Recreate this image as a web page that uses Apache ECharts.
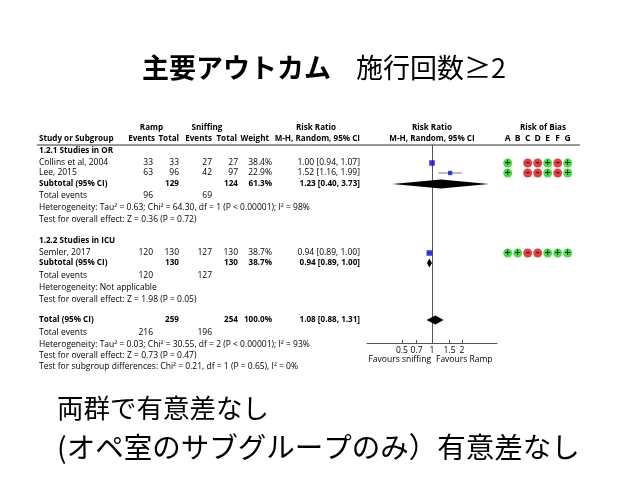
<!DOCTYPE html>
<html><head><meta charset="utf-8">
<script src="https://cdn.jsdelivr.net/npm/echarts@6/dist/echarts.min.js"></script>
<style>html,body{margin:0;padding:0;background:#fff}#c{width:638px;height:478px}</style>
</head><body><div id="c"></div><script>
// ---- data ----
const studies = ['Collins et al, 2004', 'Lee, 2015', 'Semler, 2017'];
const rampEvents = [33, 63, 120];
const rampTotal = [33, 96, 130];
const sniffEvents = [27, 42, 127];
const sniffTotal = [27, 97, 130];
const weights = [38.4, 22.9, 38.7];
const rr = [1.00, 1.52, 0.94];
const rrLow = [0.94, 1.16, 0.89];
const rrHigh = [1.07, 1.99, 1.00];
const pooledLabels = ['Subtotal (95% CI)', 'Subtotal (95% CI)', 'Total (95% CI)'];
const pooledRampTotal = [129, 130, 259];
const pooledSniffTotal = [124, 130, 254];
const pooledWeight = [61.3, 38.7, 100.0];
const pooledRR = [1.23, 0.94, 1.08];
const pooledLow = [0.40, 0.89, 0.88];
const pooledHigh = [3.73, 1.00, 1.31];
const pooledRampEvents = [96, 120, 216];
const pooledSniffEvents = [69, 127, 196];
const groupTitles = ['1.2.1 Studies in OR', '1.2.2 Studies in ICU'];
const heterogeneity = [
  'Heterogeneity: Tau² = 0.63; Chi² = 64.30, df = 1 (P < 0.00001); I² = 98%',
  'Heterogeneity: Not applicable',
  'Heterogeneity: Tau² = 0.03; Chi² = 30.55, df = 2 (P < 0.00001); I² = 93%'
];
const overallEffect = [
  'Test for overall effect: Z = 0.36 (P = 0.72)',
  'Test for overall effect: Z = 1.98 (P = 0.05)',
  'Test for overall effect: Z = 0.73 (P = 0.47)'
];
const subgroupTest = 'Test for subgroup differences: Chi² = 0.21, df = 1 (P = 0.65), I² = 0%';
const biasDomains = ['A', 'B', 'C', 'D', 'E', 'F', 'G'];
const biasRatings = [
  ['+', '', '-', '-', '+', '-', '+'],
  ['+', '', '-', '-', '+', '-', '+'],
  ['+', '+', '-', '-', '+', '+', '+']
];
const axisTicks = [0.5, 0.7, 1, 1.5, 2];

// ---- layout ----
const FONT = '"Open Sans"';
const FS = 8.5;
const FSB = 8.1;
const studyY = [163, 173, 253];
const pooledY = [184, 263, 320];
const eventsY = [196, 276, 333];
const hetY = [208, 288, 345];
const testY = [220, 300, 356];
const subTestY = 367;
const groupY = [151, 241];
const LX = 39;
const colR = [153, 179, 212, 238, 272, 360];
const headR = [155, 179, 212, 237, 269, 360];

const fmtCI = (e, l, h) => e.toFixed(2) + ' [' + l.toFixed(2) + ', ' + h.toFixed(2) + ']';
const cells = [];
function cell(x, y, t, a, b) { cells.push({ x, y, t: String(t), a: a || 'right', b: !!b }); }

// headers
cell(151.5, 128, 'Ramp', 'center', true);
cell(207, 128, 'Sniffing', 'center', true);
cell(316, 128, 'Risk Ratio', 'center', true);
cell(432, 128, 'Risk Ratio', 'center', true);
cell(543, 128, 'Risk of Bias', 'center', true);
cell(LX, 139, 'Study or Subgroup', 'left', true);
['Events', 'Total', 'Events', 'Total', 'Weight', 'M-H, Random, 95% CI'].forEach((h, i) => cell(headR[i], 139, h, 'right', true));
cell(432, 139, 'M-H, Random, 95% CI', 'center', true);

groupTitles.forEach((g, i) => cell(LX, groupY[i], g, 'left', true));
studies.forEach((s, i) => {
  const y = studyY[i];
  cell(LX, y, s, 'left');
  cell(colR[0], y, rampEvents[i]);
  cell(colR[1], y, rampTotal[i]);
  cell(colR[2], y, sniffEvents[i]);
  cell(colR[3], y, sniffTotal[i]);
  cell(colR[4], y, weights[i].toFixed(1) + '%');
  cell(colR[5], y, fmtCI(rr[i], rrLow[i], rrHigh[i]));
});
pooledLabels.forEach((p, i) => {
  const y = pooledY[i];
  cell(LX, y, p, 'left', true);
  cell(colR[1], y, pooledRampTotal[i], 'right', true);
  cell(colR[3], y, pooledSniffTotal[i], 'right', true);
  cell(colR[4], y, pooledWeight[i].toFixed(1) + '%', 'right', true);
  cell(colR[5], y, fmtCI(pooledRR[i], pooledLow[i], pooledHigh[i]), 'right', true);
  cell(LX, eventsY[i], 'Total events', 'left');
  cell(colR[0], eventsY[i], pooledRampEvents[i]);
  cell(colR[2], eventsY[i], pooledSniffEvents[i]);
  cell(LX, hetY[i], heterogeneity[i], 'left');
  cell(LX, testY[i], overallEffect[i], 'left');
});
cell(LX, subTestY, subgroupTest, 'left');
cell(431, 360, 'Favours sniffing', 'right');
cell(436, 360, 'Favours Ramp', 'left');

const ln = Math.log;
const biasData = [];
biasRatings.forEach((row, i) => row.forEach((r, j) => {
  if (!r) return;
  biasData.push({
    value: [biasDomains[j], studyY[i]],
    itemStyle: { color: r === '+' ? '#22cc22' : '#d41414' },
    label: { formatter: r === '+' ? '+' : '–' }
  });
}));

const chart = echarts.init(document.getElementById('c'), null, { renderer: 'canvas' });
chart.setOption({
  animation: false,
  backgroundColor: '#fff',
  grid: [
    { left: 0, top: 0, width: 638, height: 478 },
    { left: 367, top: 145, width: 130, height: 198 },
    { left: 502.7, top: 145, width: 70, height: 198 }
  ],
  xAxis: [
    { gridIndex: 0, type: 'value', min: 0, max: 638, show: false },
    {
      gridIndex: 1, type: 'value', min: -1.5, max: 1.5,
      axisLine: { onZero: false, lineStyle: { color: '#555', width: 1 } },
      axisTick: { customValues: axisTicks.map(ln), length: 3, inside: true, lineStyle: { color: '#555' } },
      axisLabel: {
        customValues: axisTicks.map(ln), margin: 3, color: '#000', fontSize: FS, fontFamily: FONT,
        formatter: v => String(+Math.exp(v).toFixed(1))
      },
      splitLine: { show: false }
    },
    {
      gridIndex: 2, type: 'category', data: biasDomains, position: 'top',
      axisLine: { show: false }, axisTick: { show: false },
      axisLabel: { interval: 0, margin: 2, color: '#000', fontSize: 8.5, fontWeight: 'bold', fontFamily: FONT }
    }
  ],
  yAxis: [
    { gridIndex: 0, type: 'value', min: 0, max: 478, inverse: true, show: false },
    {
      gridIndex: 1, type: 'value', min: 145, max: 343, inverse: true,
      axisLine: { show: true, onZero: true, lineStyle: { color: '#555', width: 1 } },
      axisTick: { show: false }, axisLabel: { show: false }, splitLine: { show: false }
    },
    { gridIndex: 2, type: 'value', min: 145, max: 343, inverse: true, show: false }
  ],
  series: [
    {
      type: 'custom', xAxisIndex: 0, yAxisIndex: 0, clip: false, silent: true,
      data: cells.map(c => [c.x, c.y]),
      renderItem: (params, api) => {
        const c = cells[params.dataIndex];
        const p = api.coord([api.value(0), api.value(1)]);
        return {
          type: 'text', x: p[0], y: p[1],
          style: {
            text: c.t, align: c.a, verticalAlign: 'middle', fill: '#000',
            font: (c.b ? 'bold ' + FSB : FS) + 'px ' + FONT
          }
        };
      }
    },
    {
      type: 'custom', xAxisIndex: 1, yAxisIndex: 1, clip: false, silent: true,
      data: studies.map((s, i) => [ln(rrLow[i]), ln(rrHigh[i]), studyY[i]]),
      renderItem: (params, api) => {
        const a = api.coord([api.value(0), api.value(2)]);
        const b = api.coord([api.value(1), api.value(2)]);
        return { type: 'line', shape: { x1: a[0], y1: a[1], x2: b[0], y2: b[1] }, style: { stroke: '#7a7a8a', lineWidth: 1 } };
      }
    },
    {
      type: 'scatter', xAxisIndex: 1, yAxisIndex: 1, symbol: 'rect', silent: true,
      data: studies.map((s, i) => [ln(rr[i]), studyY[i]]),
      symbolSize: (v, p) => Math.sqrt(weights[p.dataIndex]) * 0.9,
      itemStyle: { color: '#1010d0' }
    },
    {
      type: 'custom', xAxisIndex: 1, yAxisIndex: 1, clip: false, silent: true,
      data: pooledLabels.map((s, i) => [ln(pooledLow[i]), ln(pooledRR[i]), ln(pooledHigh[i]), pooledY[i]]),
      encode: { x: [0, 1, 2], y: 3 },
      renderItem: (params, api) => {
        const y = api.value(3);
        const l = api.coord([api.value(0), y]);
        const e = api.coord([api.value(1), y]);
        const h = api.coord([api.value(2), y]);
        const d = 4.5;
        return {
          type: 'polygon',
          shape: { points: [[l[0], l[1]], [e[0], e[1] - d], [h[0], h[1]], [e[0], e[1] + d]] },
          style: { fill: '#000' }
        };
      }
    },
    {
      type: 'scatter', xAxisIndex: 2, yAxisIndex: 2, symbol: 'circle', symbolSize: 9, silent: true,
      data: biasData,
      label: { show: true, position: 'inside', color: '#000', fontSize: 8, fontWeight: 'bold', fontFamily: 'DejaVu Sans' }
    }
  ],
  graphic: [
    { type: 'line', shape: { x1: 37, y1: 145, x2: 580, y2: 145 }, style: { stroke: '#333', lineWidth: 1 } },
    { type: 'text', x: 142, y: 68, style: { text: '主要アウトカム', verticalAlign: 'middle', fill: '#000', font: 'bold 27px "Noto Sans CJK JP"' } },
    { type: 'text', x: 356, y: 68, style: { text: '施行回数≥2', verticalAlign: 'middle', fill: '#000', font: '27px "Noto Sans CJK JP"' } },
    { type: 'text', x: 57, y: 408, style: { text: '両群で有意差なし', verticalAlign: 'middle', fill: '#000', font: '26.5px "Noto Sans CJK JP"' } },
    { type: 'text', x: 57, y: 447, style: { text: '(オペ室のサブグループのみ）有意差なし', verticalAlign: 'middle', fill: '#000', font: '28.5px "Noto Sans CJK JP"' } }
  ]
});
</script></body></html>
